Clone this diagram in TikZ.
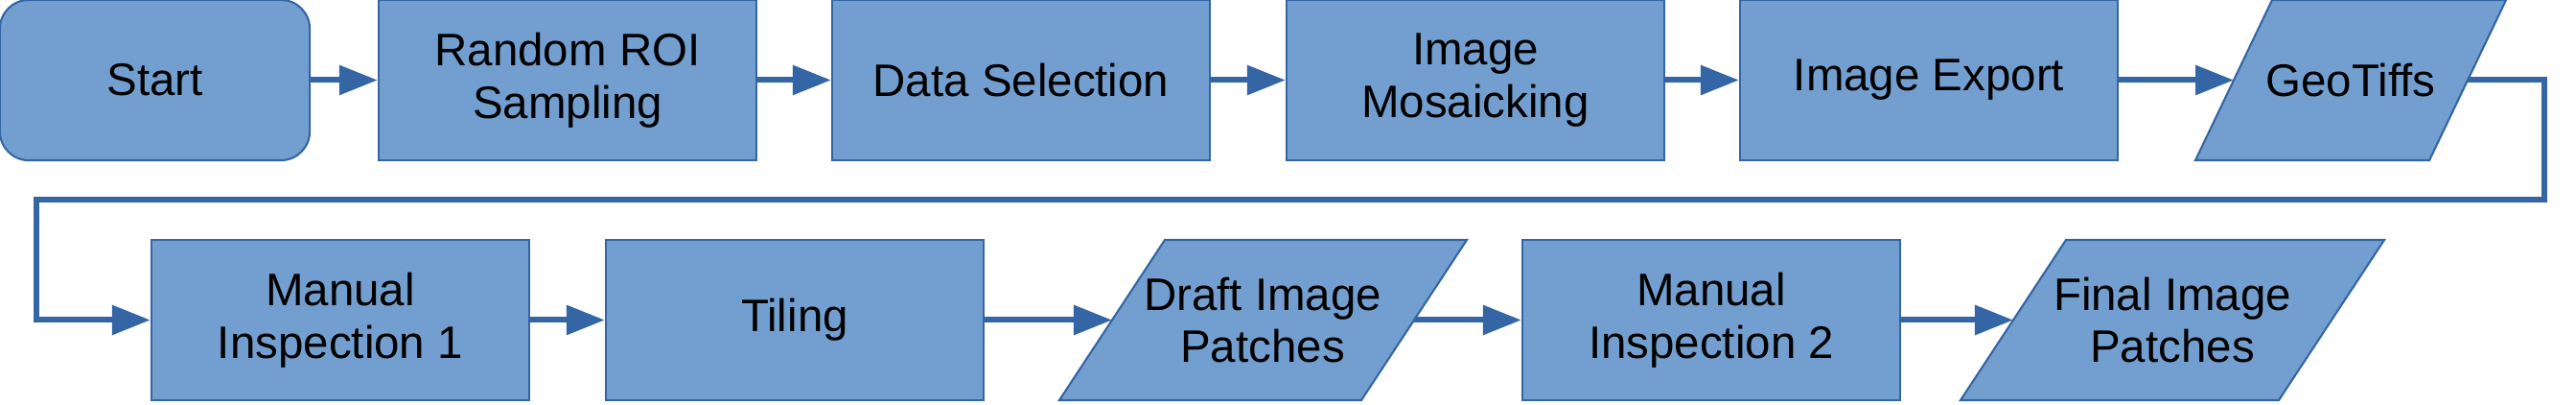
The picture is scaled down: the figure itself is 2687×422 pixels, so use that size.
\documentclass[tikz,border=0pt]{standalone}
\usepackage{fontspec}
\setmainfont{Liberation Sans}
\usetikzlibrary{arrows.meta}
\definecolor{fillb}{HTML}{729FCF}
\definecolor{lineb}{HTML}{3465A4}
\begin{document}
\begin{tikzpicture}[x=0.01cm,y=-0.01cm,
  box/.style={draw=lineb,fill=fillb,line width=0.6pt,inner sep=0pt,align=center,font=\fontsize{13.5}{15.5}\selectfont},
  para/.style={draw=lineb,fill=fillb,line width=0.6pt},
  lbl/.style={align=center,font=\fontsize{13.5}{15.5}\selectfont},
  con/.style={draw=lineb,line width=0.06cm,-{Triangle[length=0.4cm,width=0.3cm]}}]
\useasboundingbox (0,0) rectangle (2687,422);
% row 1
\node[box,rounded corners=0.3cm,minimum width=3.23cm,minimum height=1.67cm] (start) at (161.5,83.5) {Start};
\node[box,minimum width=3.94cm,minimum height=1.67cm] (roi) at (592,83.5) {Random ROI\\Sampling};
\node[box,minimum width=3.94cm,minimum height=1.67cm] (sel) at (1065,83.5) {Data Selection};
\node[box,minimum width=3.94cm,minimum height=1.67cm] (mos) at (1539,83.5) {Image\\Mosaicking};
\node[box,minimum width=3.94cm,minimum height=1.67cm] (exp) at (2012,83.5) {Image Export};
\path[para] (2290,167) -- (2370,0) -- (2614,0) -- (2534,167) -- cycle;
\node[lbl] (geo) at (2452,83.5) {GeoTiffs};
\coordinate (geoL) at (2330,83.5);
\coordinate (geoR) at (2574,83.5);
% row 2
\node[box,minimum width=3.94cm,minimum height=1.67cm] (mi1) at (355,333.5) {Manual\\Inspection 1};
\node[box,minimum width=3.94cm,minimum height=1.67cm] (til) at (829,333.5) {Tiling};
\path[para] (1105,417) -- (1215,250) -- (1530,250) -- (1420,417) -- cycle;
\node[lbl] (dip) at (1317,333.5) {Draft Image\\Patches};
\coordinate (dipL) at (1160,333.5);
\coordinate (dipR) at (1475,333.5);
\node[box,minimum width=3.94cm,minimum height=1.67cm] (mi2) at (1785,333.5) {Manual\\Inspection 2};
\path[para] (2045,417) -- (2155,250) -- (2487,250) -- (2377,417) -- cycle;
\node[lbl] (fip) at (2266,333.5) {Final Image\\Patches};
\coordinate (fipL) at (2100,333.5);
% connectors
\draw[con] (start.east) -- (roi.west);
\draw[con] (roi.east) -- (sel.west);
\draw[con] (sel.east) -- (mos.west);
\draw[con] (mos.east) -- (exp.west);
\draw[con] (exp.east) -- (geoL);
\coordinate (c1) at (2654,83.5);
\coordinate (c2) at (2654,208);
\coordinate (c3) at (38,208);
\coordinate (c4) at (38,333.5);
\draw[con] (geoR) -- (c1) -- (c2) -- (c3) -- (c4) -- (mi1.west);
\draw[con] (mi1.east) -- (til.west);
\draw[con] (til.east) -- (dipL);
\draw[con] (dipR) -- (mi2.west);
\draw[con] (mi2.east) -- (fipL);
\end{tikzpicture}
\end{document}
